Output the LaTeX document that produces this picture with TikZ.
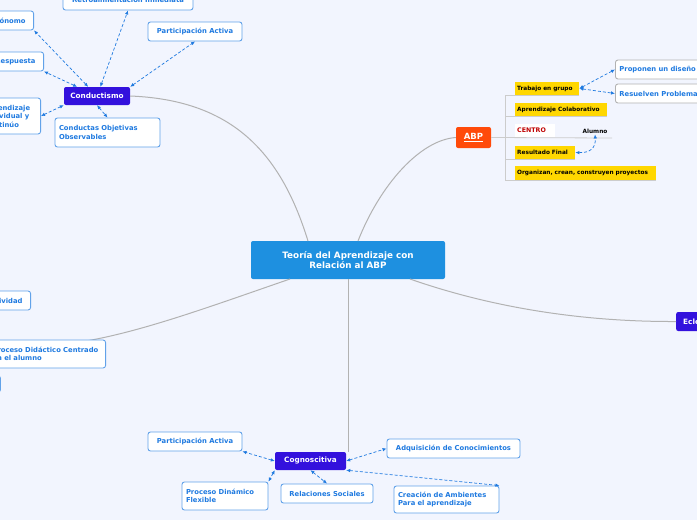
\documentclass[tikz,border=0pt]{standalone}
\usepackage{fontspec}
\setmainfont{DejaVu Sans}
\usetikzlibrary{arrows.meta}
\definecolor{bg}{HTML}{F2F5FE}
\definecolor{bl}{HTML}{1F7AE0}
\definecolor{pu}{HTML}{3311DD}
\definecolor{yl}{HTML}{FFD700}
\definecolor{ab}{HTML}{FF4A0A}
\definecolor{mainc}{HTML}{1E90E0}
\tikzset{
 sub/.style={draw=bl!70,line width=0.9pt,fill=white,rounded corners=2.5pt,text=bl,font=\bfseries\fontsize{6.8}{8.5}\selectfont,align=left,inner sep=0pt},
 top/.style={fill=pu,rounded corners=2pt,text=white,font=\bfseries\fontsize{7.3}{8}\selectfont,inner sep=0pt},
 yel/.style={fill=yl,text=black,font=\bfseries\fontsize{5.8}{6}\selectfont,inner sep=0pt,anchor=west,align=left},
 rel/.style={bl,densely dashed,line width=0.7pt,{Latex[length=4pt,width=3.5pt]}-{Latex[length=4pt,width=3.5pt]}},
 br/.style={gray!60,line width=1pt},
 tw/.style={gray!40,line width=0.8pt}
}
\begin{document}
\begin{tikzpicture}[x=1pt,y=-1pt]
\useasboundingbox (0,0) rectangle (697,520);
\fill[bg] (0,0) rectangle (697,520);
\clip (0,0) rectangle (697,520);
% center
\node[fill=mainc,rounded corners=2pt,text=white,font=\bfseries\fontsize{8.8}{10}\selectfont,align=center,minimum width=194pt,minimum height=38pt,inner sep=0pt] (c) at (348,260) {Teoría del Aprendizaje con\\Relación al ABP};
% top-level
\node[top,minimum width=66pt,minimum height=18pt] (con) at (97,96) {Conductismo};
\node[fill=ab,rounded corners=2pt,text=white,font=\bfseries\fontsize{8.5}{9}\selectfont,minimum width=35pt,minimum height=21pt,inner sep=0pt] (abp) at (473.5,137.5) {\underline{ABP}};
\node[top,minimum width=60pt,minimum height=19pt,anchor=west,text width=54pt,align=left] (ecl) at (676,321.5) {\hspace*{4pt}Ecléctica};
\node[top,minimum width=71pt,minimum height=18pt] (cog) at (310.5,461) {Cognoscitiva};
% main branches
\draw[br] (con.east) .. controls (230,100) and (280,150) .. (308,241);
\draw[br] (358,241) .. controls (380,185) and (420,140) .. (abp.west);
\draw[br] (410,279) .. controls (470,300) and (560,322) .. (ecl.west);
\draw[br] (290,279) .. controls (200,310) and (120,340) .. (55,345);
\draw[br] (348,279) -- (cog.north -| 348,0);
% Conductismo subs
\node[sub,minimum width=130pt,minimum height=20pt] (retro) at (128,0) {Retroalimentación Inmediata};
\node[sub,minimum width=60pt,minimum height=19pt,anchor=east,text width=44pt,align=right] (auto) at (34,20.5) {Autónomo};
\node[sub,minimum width=60pt,minimum height=19pt,anchor=east,text width=44pt,align=right] (resp) at (44,61.5) {Respuesta};
\node[sub,minimum width=94pt,minimum height=19pt] (pa1) at (195,31.5) {Participación Activa};
\node[sub,minimum width=62pt,minimum height=36pt,anchor=east,text width=50pt] (apre) at (41,116) {Aprendizaje\\Individual y\\Continúo};
\node[sub,minimum width=105pt,minimum height=29pt,text width=97pt] (cob) at (107.5,132.5) {Conductas Objetivas\\Observables};
\draw[rel] (con) -- (retro.south);
\draw[rel] (con) -- (auto.south east);
\draw[rel] (con) -- (resp.south east);
\draw[rel] (con.north east) -- (pa1.south);
\draw[rel] (con.south west) -- (apre.east);
\draw[rel] (con.south) -- (cob.north);
% ABP subs
\node[yel,minimum width=64pt,minimum height=13pt,text width=60pt] (tg) at (515,88.5) {Trabajo en grupo};
\node[yel,minimum width=92pt,minimum height=13pt,text width=88pt] (ac) at (515,109.5) {Aprendizaje Colaborativo};
\node[fill=white,text=red!75!black,font=\bfseries\fontsize{6.3}{7}\selectfont,minimum width=40pt,minimum height=13pt,inner sep=0pt,anchor=west,text width=36pt,align=left] (cen) at (515,130.5) {CENTRO};
\node[font=\bfseries\fontsize{5.8}{6}\selectfont,inner sep=1pt] (alu) at (595,131) {Alumno};
\node[yel,minimum width=60pt,minimum height=13pt,text width=56pt] (rf) at (515,152.5) {Resultado Final};
\node[yel,minimum width=141pt,minimum height=14pt,text width=137pt] (org) at (515,173) {Organizan, crean, construyen proyectos};
\draw[tw] (abp.east) -- (612,138);
\foreach \n in {tg,ac,rf,org}{\draw[tw] (505,138) -- (\n.south west -| 505,0) .. controls (\n.south west -| 505,0) .. (\n.south west) -- (\n.south east);}
\node[sub,draw=gray!60,minimum width=100pt,minimum height=19pt,anchor=west,text width=92pt] (pro) at (615,69.5) {Proponen un diseño};
\node[sub,draw=gray!60,minimum width=100pt,minimum height=19pt,anchor=west,text width=92pt] (res) at (615,93.5) {Resuelven Problemas};
\draw[rel] (tg.east) -- (pro.west);
\draw[rel] (tg.east) -- (res.west);
\draw[rel] (rf.east) .. controls (590,153) and (596,148) .. (alu.south);
% left subs
\node[sub,minimum width=70pt,minimum height=19pt,anchor=east,text width=54pt,align=right] (cre) at (31,300.5) {Creatividad};
\node[sub,minimum width=120pt,minimum height=28pt,anchor=east,text width=106pt] (pdc) at (106,354) {Proceso Didáctico Centrado\\en el alumno};
\node[sub,minimum width=40pt,minimum height=16pt,anchor=east] (pd2) at (1,384) {};
% Cognoscitiva subs
\node[sub,minimum width=94pt,minimum height=19pt] (pa2) at (195,441.5) {Participación Activa};
\node[sub,minimum width=133pt,minimum height=19pt] (adq) at (453.5,448.5) {Adquisición de Conocimientos};
\node[sub,minimum width=86pt,minimum height=28pt,text width=78pt] (pdf) at (225,496) {Proceso Dinámico\\Flexible};
\node[sub,minimum width=92pt,minimum height=19pt] (rs) at (327,493.5) {Relaciones Sociales};
\node[sub,minimum width=105pt,minimum height=27pt,text width=97pt] (cam) at (446.5,499.5) {Creación de Ambientes\\Para el aprendizaje};
\draw[rel] (cog.west) -- (pa2.south east);
\draw[rel] (cog.east) -- (adq.west);
\draw[rel] (cog.south west) -- (pdf.north east);
\draw[rel] (cog.south) -- (rs.north);
\draw[rel] (cog.south east) -- (cam.north east);
\end{tikzpicture}
\end{document}
